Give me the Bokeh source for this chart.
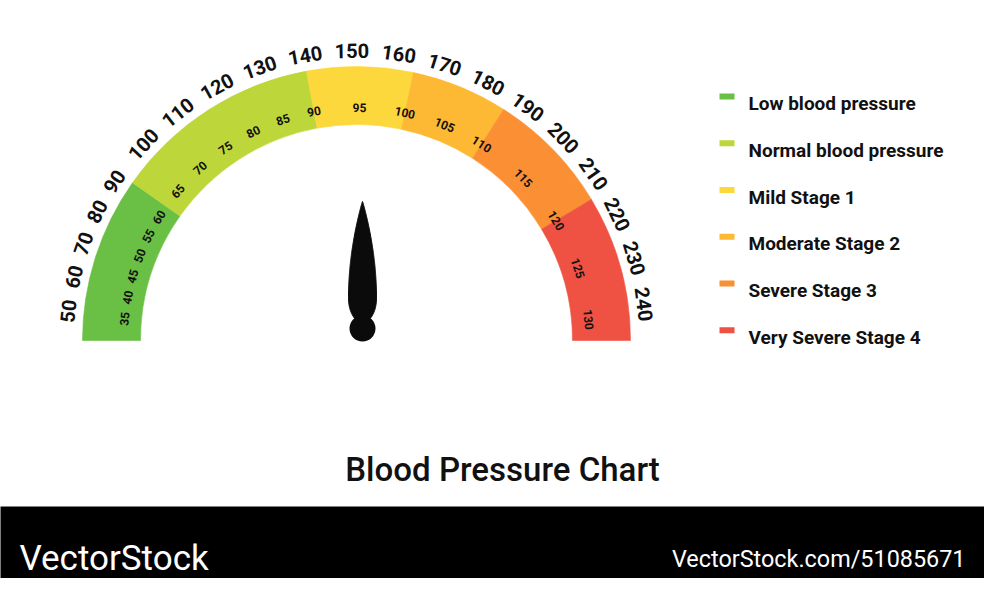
import numpy as np
from bokeh.plotting import figure
from bokeh.models import Range1d, ColumnDataSource
from bokeh.core.properties import value
from bokeh.embed import file_html
from bokeh.resources import INLINE

# ---------------- data ----------------
categories = ["Low blood pressure", "Normal blood pressure", "Mild Stage 1",
              "Moderate Stage 2", "Severe Stage 3", "Very Severe Stage 4"]
colors = ["#6abf45", "#bdd73a", "#fdd83d", "#fdb933", "#fa9033", "#ef5243"]
# segment limits on the diastolic (inner) scale
dia_lo = [30, 62, 90, 100, 110, 120]
dia_hi = [62, 90, 100, 110, 120, 132]
systolic_ticks = [50, 60, 70, 80, 90, 100, 110, 120, 130, 140, 150,
                  160, 170, 180, 190, 200, 210, 220, 230, 240]
diastolic_ticks = [35, 40, 45, 50, 55, 60, 65, 70, 75, 80, 85, 90, 95,
                   100, 105, 110, 115, 120, 125, 130]
title = "Blood Pressure Chart"
brand_left = "VectorStock"
brand_right = "VectorStock.com/51085671"

# gauge scales (value -> angle in degrees), piecewise linear
dia_knots = [30, 60, 90, 100, 110, 120, 132]
dia_knot_deg = [180, 148, 100.5, 78, 57.5, 31, 0]
sys_knots = [41.5, 90, 240, 247.7]
sys_knot_deg = [180, 146.7, 7.2, 0]


def dia_deg(v):
    return np.interp(v, dia_knots, dia_knot_deg)


def sys_deg(v):
    return np.interp(v, sys_knots, sys_knot_deg)


# ---------------- layout ----------------
W, H = 984, 578
TOTAL_H = 594
CX, CY = 364, TOTAL_H - 348
R_IN, R_OUT = 216, 274
R_SYS_LBL, R_DIA_LBL = 290, 233
FONT = value("Roboto")

p = figure(width=W, height=H, x_range=Range1d(8, 8 + W), y_range=Range1d(8, 8 + H),
           output_backend="svg", toolbar_location=None, min_border=0)
p.axis.visible = False
p.grid.visible = False
p.outline_line_color = None
p.background_fill_color = "white"
p.border_fill_color = "white"

# gauge segments
seg = ColumnDataSource(dict(start=dia_deg(np.array(dia_hi)),
                            end=dia_deg(np.array(dia_lo)), color=colors))
p.annular_wedge(x=CX, y=CY, inner_radius=R_IN, outer_radius=R_OUT,
                start_angle="start", end_angle="end",
                start_angle_units="deg", end_angle_units="deg",
                fill_color="color", line_color="color", line_width=0.6, source=seg)

# outer systolic labels
a = np.radians(sys_deg(np.array(systolic_ticks)))
p.text(x=CX + R_SYS_LBL * np.cos(a), y=CY + R_SYS_LBL * np.sin(a),
       text=[str(v) for v in systolic_ticks], angle=np.degrees(a) - 90, angle_units="deg",
       text_align="center", text_baseline="middle", text_font=FONT,
       text_font_style="bold", text_font_size="20px", text_color="#111111")

# inner diastolic labels
b = np.radians(dia_deg(np.array(diastolic_ticks)))
p.text(x=CX + R_DIA_LBL * np.cos(b), y=CY + R_DIA_LBL * np.sin(b),
       text=[str(v) for v in diastolic_ticks], angle=np.degrees(b) - 90, angle_units="deg",
       text_align="center", text_baseline="middle", text_font=FONT,
       text_font_style="bold", text_font_size="12px", text_color="#111111")

# needle (teardrop + hub)
NX = 370
tip_y, bot_y = TOTAL_H - 209, TOTAL_H - 330
L = tip_y - bot_y
s = np.linspace(0, 1, 120)
w = np.where(s <= 0.8, 14 * np.sin(np.pi / 2 * (s / 0.8) ** 0.9),
             14 * np.sqrt(np.clip(1 - ((s - 0.8) / 0.2) ** 2, 0, 1)))
ys = tip_y - s * L
px = np.concatenate([NX - w, (NX + w)[::-1]])
py = np.concatenate([ys, ys[::-1]])
p.patch(px, py, fill_color="#0b0b0b", line_color="#0b0b0b", line_width=1)
p.circle(x=[NX], y=[TOTAL_H - 336], radius=13, fill_color="#0b0b0b", line_color=None)

# legend
LEG_Y0, LEG_DY = 104, 46.75
ly = np.array([TOTAL_H - (LEG_Y0 + i * LEG_DY) for i in range(len(categories))])
p.rect(x=734.5, y=ly, width=15, height=6, fill_color=colors, line_color=None)
p.text(x=756, y=ly - 7, text=categories, text_align="left", text_baseline="alphabetic",
       text_font=FONT, text_font_style="bold", text_font_size="19px", text_color="#111111")

# title
p.text(x=[510], y=[TOTAL_H - 477], text=[title], text_align="center",
       text_baseline="alphabetic", text_font=value("Roboto Medium, Roboto"),
       text_font_size="33px", text_color="#111111")

# brand band
p.quad(left=0, right=1000, bottom=0, top=TOTAL_H - 514, fill_color="black", line_color=None)
p.text(x=[27], y=[TOTAL_H - 566], text=[brand_left], text_align="left",
       text_baseline="alphabetic", text_font=FONT, text_font_size="35px", text_color="white")
p.text(x=[973], y=[TOTAL_H - 566], text=[brand_right], text_align="right",
       text_baseline="alphabetic", text_font=FONT, text_font_size="23.4px", text_color="white")

open("out.html", "w").write(file_html(p, INLINE))
